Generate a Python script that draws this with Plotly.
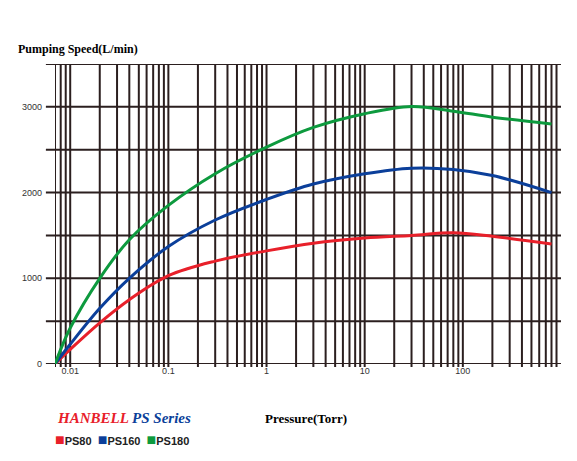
import plotly.graph_objects as go

pressure = [0.007, 0.01, 0.02, 0.04, 0.1, 0.3, 1, 3, 10, 30, 80, 200, 800]
ps80 = [0, 170, 480, 750, 1030, 1200, 1320, 1410, 1470, 1500, 1530, 1490, 1400]
ps160 = [0, 230, 650, 1000, 1370, 1680, 1920, 2100, 2220, 2285, 2270, 2200, 2000]
ps180 = [0, 420, 1000, 1450, 1850, 2220, 2530, 2760, 2920, 3005, 2950, 2880, 2800]
names = ['PS80', 'PS160', 'PS180']
colors = ['#e8202a', '#0b3f9a', '#0d9a3e']

fig = go.Figure()

# grid drawn as shapes: minor vertical lines each decade
grid = '#2b1f1f'
for dec in [0.001, 0.01, 0.1, 1, 10, 100]:
    for k in range(1, 10):
        v = dec * k
        if 0.007 <= v <= 1000:
            fig.add_shape(type='line', xref='x', yref='paper', x0=v, x1=v, y0=-0.01, y1=1,
                          line=dict(color=grid, width=2), layer='below')
for h in range(0, 3501, 500):
    fig.add_shape(type='line', xref='paper', yref='y', x0=-0.018, x1=1, y0=h, y1=h,
                  line=dict(color=grid, width=2), layer='below')

for n, ys, c in zip(names, [ps80, ps160, ps180], colors):
    fig.add_trace(go.Scatter(x=pressure, y=ys, mode='lines', name=n,
                             line=dict(color=c, width=3, shape='spline', smoothing=1.0),
                             showlegend=False))

T, B = 56, 105
fig.update_layout(
    width=577, height=461,
    paper_bgcolor='white', plot_bgcolor='white',
    margin=dict(l=47, r=24, t=T, b=B),
    font=dict(family='Arial', size=9, color='#333'),
    xaxis=dict(type='log', range=[-2.155, 3], showgrid=False, zeroline=False,
               tickvals=[0.01, 0.1, 1, 10, 100], ticktext=['0.01', '0.1', '1', '10', '100'],
               ticks='', showline=False),
    yaxis=dict(range=[0, 3500], showgrid=False, zeroline=False, tickvals=[0, 1000, 2000, 3000],
               ticks='', ticklabelstandoff=12),
    annotations=[
        dict(text='<b>Pumping Speed(L/min)</b>', x=8, y=41, showarrow=False,
             font=dict(family='Liberation Serif', size=12, color='black'), xanchor='left', yanchor='middle'),
        dict(text='<b>Pressure(Torr)</b>', x=255, y=410, showarrow=False,
             font=dict(family='Liberation Serif', size=13, color='black'), xanchor='left', yanchor='middle'),
        dict(text='<b><i><span style="color:#e8202a">HANBELL</span> <span style="color:#0b3f9a">PS Series</span></i></b>',
             x=47, y=410, showarrow=False, font=dict(family='Liberation Serif', size=15),
             xanchor='left', yanchor='middle'),
        dict(text='<span style="color:#e8202a;font-size:16px">■</span><b>PS80</b>  <span style="color:#0b3f9a;font-size:16px">■</span><b>PS160</b>  <span style="color:#0d9a3e;font-size:16px">■</span><b>PS180</b>',
             x=45, y=431, showarrow=False, font=dict(family='Liberation Sans', size=11, color='#222'),
             xanchor='left', yanchor='middle'),
    ],
)
# convert pixel annotations to paper coords
for a in fig.layout.annotations:
    a.x = (a.x - 47) / (577 - 47 - 24)
    a.y = (461 - B - a.y) / (461 - T - B)
    a.xref = 'paper'
    a.yref = 'paper'

fig.write_html('out.html')
